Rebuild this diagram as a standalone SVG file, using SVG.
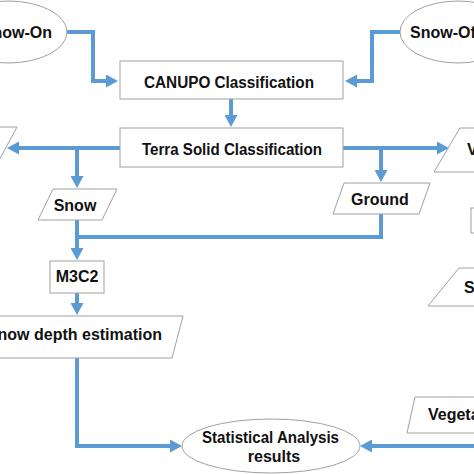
<svg xmlns="http://www.w3.org/2000/svg" width="474" height="474" viewBox="0 0 474 474">
<style>
.shape{fill:#fff;stroke:#a0a0a0;stroke-width:1}
.conn{fill:none;stroke:#5b9bd5;stroke-width:4}
text{font-family:"Liberation Sans",Arial,sans-serif;font-weight:bold;font-size:16px;fill:#111}
</style>
<defs>
<marker id="ah" markerUnits="userSpaceOnUse" markerWidth="12" markerHeight="13" refX="2" refY="6.5" orient="auto">
<path d="M0,0 L12,6.5 L0,13 z" fill="#5b9bd5"/>
</marker>
</defs>
<rect width="474" height="474" fill="#fff"/>
<g id="connectors">
<path class="conn" d="M67,32 H93 V81 H108" marker-end="url(#ah)"/>
<path class="conn" d="M400,32 H372 V81 H355" marker-end="url(#ah)"/>
<path class="conn" d="M231,99 V117" marker-end="url(#ah)"/>
<path class="conn" d="M120,148 H17" marker-end="url(#ah)"/>
<path class="conn" d="M343,148 H439" marker-end="url(#ah)"/>
<path class="conn" d="M77,148 V178" marker-end="url(#ah)"/>
<path class="conn" d="M381,148 V172" marker-end="url(#ah)"/>
<path class="conn" d="M381,214 V237 H77"/>
<path class="conn" d="M77,220 V250" marker-end="url(#ah)"/>
<path class="conn" d="M77,293 V305" marker-end="url(#ah)"/>
<path class="conn" d="M77,358 V446 H172" marker-end="url(#ah)"/>
<path class="conn" d="M480,446 H370" marker-end="url(#ah)"/>
</g>
<g id="snow-on">
<ellipse class="shape" cx="8" cy="32" rx="59" ry="31"/>
<text x="52" y="38" text-anchor="end">Snow-On</text>
</g>
<g id="snow-off">
<ellipse class="shape" cx="458" cy="32" rx="58" ry="31"/>
<text x="410" y="38">Snow-Off</text>
</g>
<g id="canupo">
<rect class="shape" x="120" y="61" width="223" height="38"/>
<text x="144" y="88" textLength="170" lengthAdjust="spacingAndGlyphs">CANUPO Classification</text>
</g>
<g id="terra">
<rect class="shape" x="120" y="128" width="223" height="39"/>
<text x="142" y="155" textLength="180" lengthAdjust="spacingAndGlyphs">Terra Solid Classification</text>
</g>
<g id="left-out">
<polygon class="shape" points="-60,127 17,127 -5,168 -82,168"/>
</g>
<g id="vegetation-top">
<polygon class="shape" points="460,128 540,128 514,172 434,172"/>
<text x="467" y="155">V</text>
</g>
<g id="snow">
<polygon class="shape" points="53,189 117,189 102,220 38,220"/>
<text x="75" y="211" text-anchor="middle">Snow</text>
</g>
<g id="ground">
<polygon class="shape" points="344,183 430,183 419,214 333,214"/>
<text x="380" y="205" text-anchor="middle">Ground</text>
</g>
<g id="right-box">
<rect class="shape" x="471" y="208" width="40" height="25"/>
</g>
<g id="s-node">
<polygon class="shape" points="459,268 540,268 509,306 428,306"/>
<text x="464" y="293">S</text>
</g>
<g id="m3c2">
<rect class="shape" x="50" y="261" width="54" height="32"/>
<text x="77" y="282" text-anchor="middle">M3C2</text>
</g>
<g id="snow-depth">
<polygon class="shape" points="-20,316 183,316 172,358 -31,358"/>
<text x="162" y="340" text-anchor="end">Snow depth estimation</text>
</g>
<g id="vegetation-bottom">
<polygon class="shape" points="415,397 520,397 512,433 407,433"/>
<text x="428" y="420">Vegetation</text>
</g>
<g id="stats">
<ellipse class="shape" cx="271" cy="446" rx="89" ry="27"/>
<text x="202" y="443" textLength="137" lengthAdjust="spacingAndGlyphs">Statistical Analysis</text>
<text x="274" y="462" text-anchor="middle">results</text>
</g>
</svg>
